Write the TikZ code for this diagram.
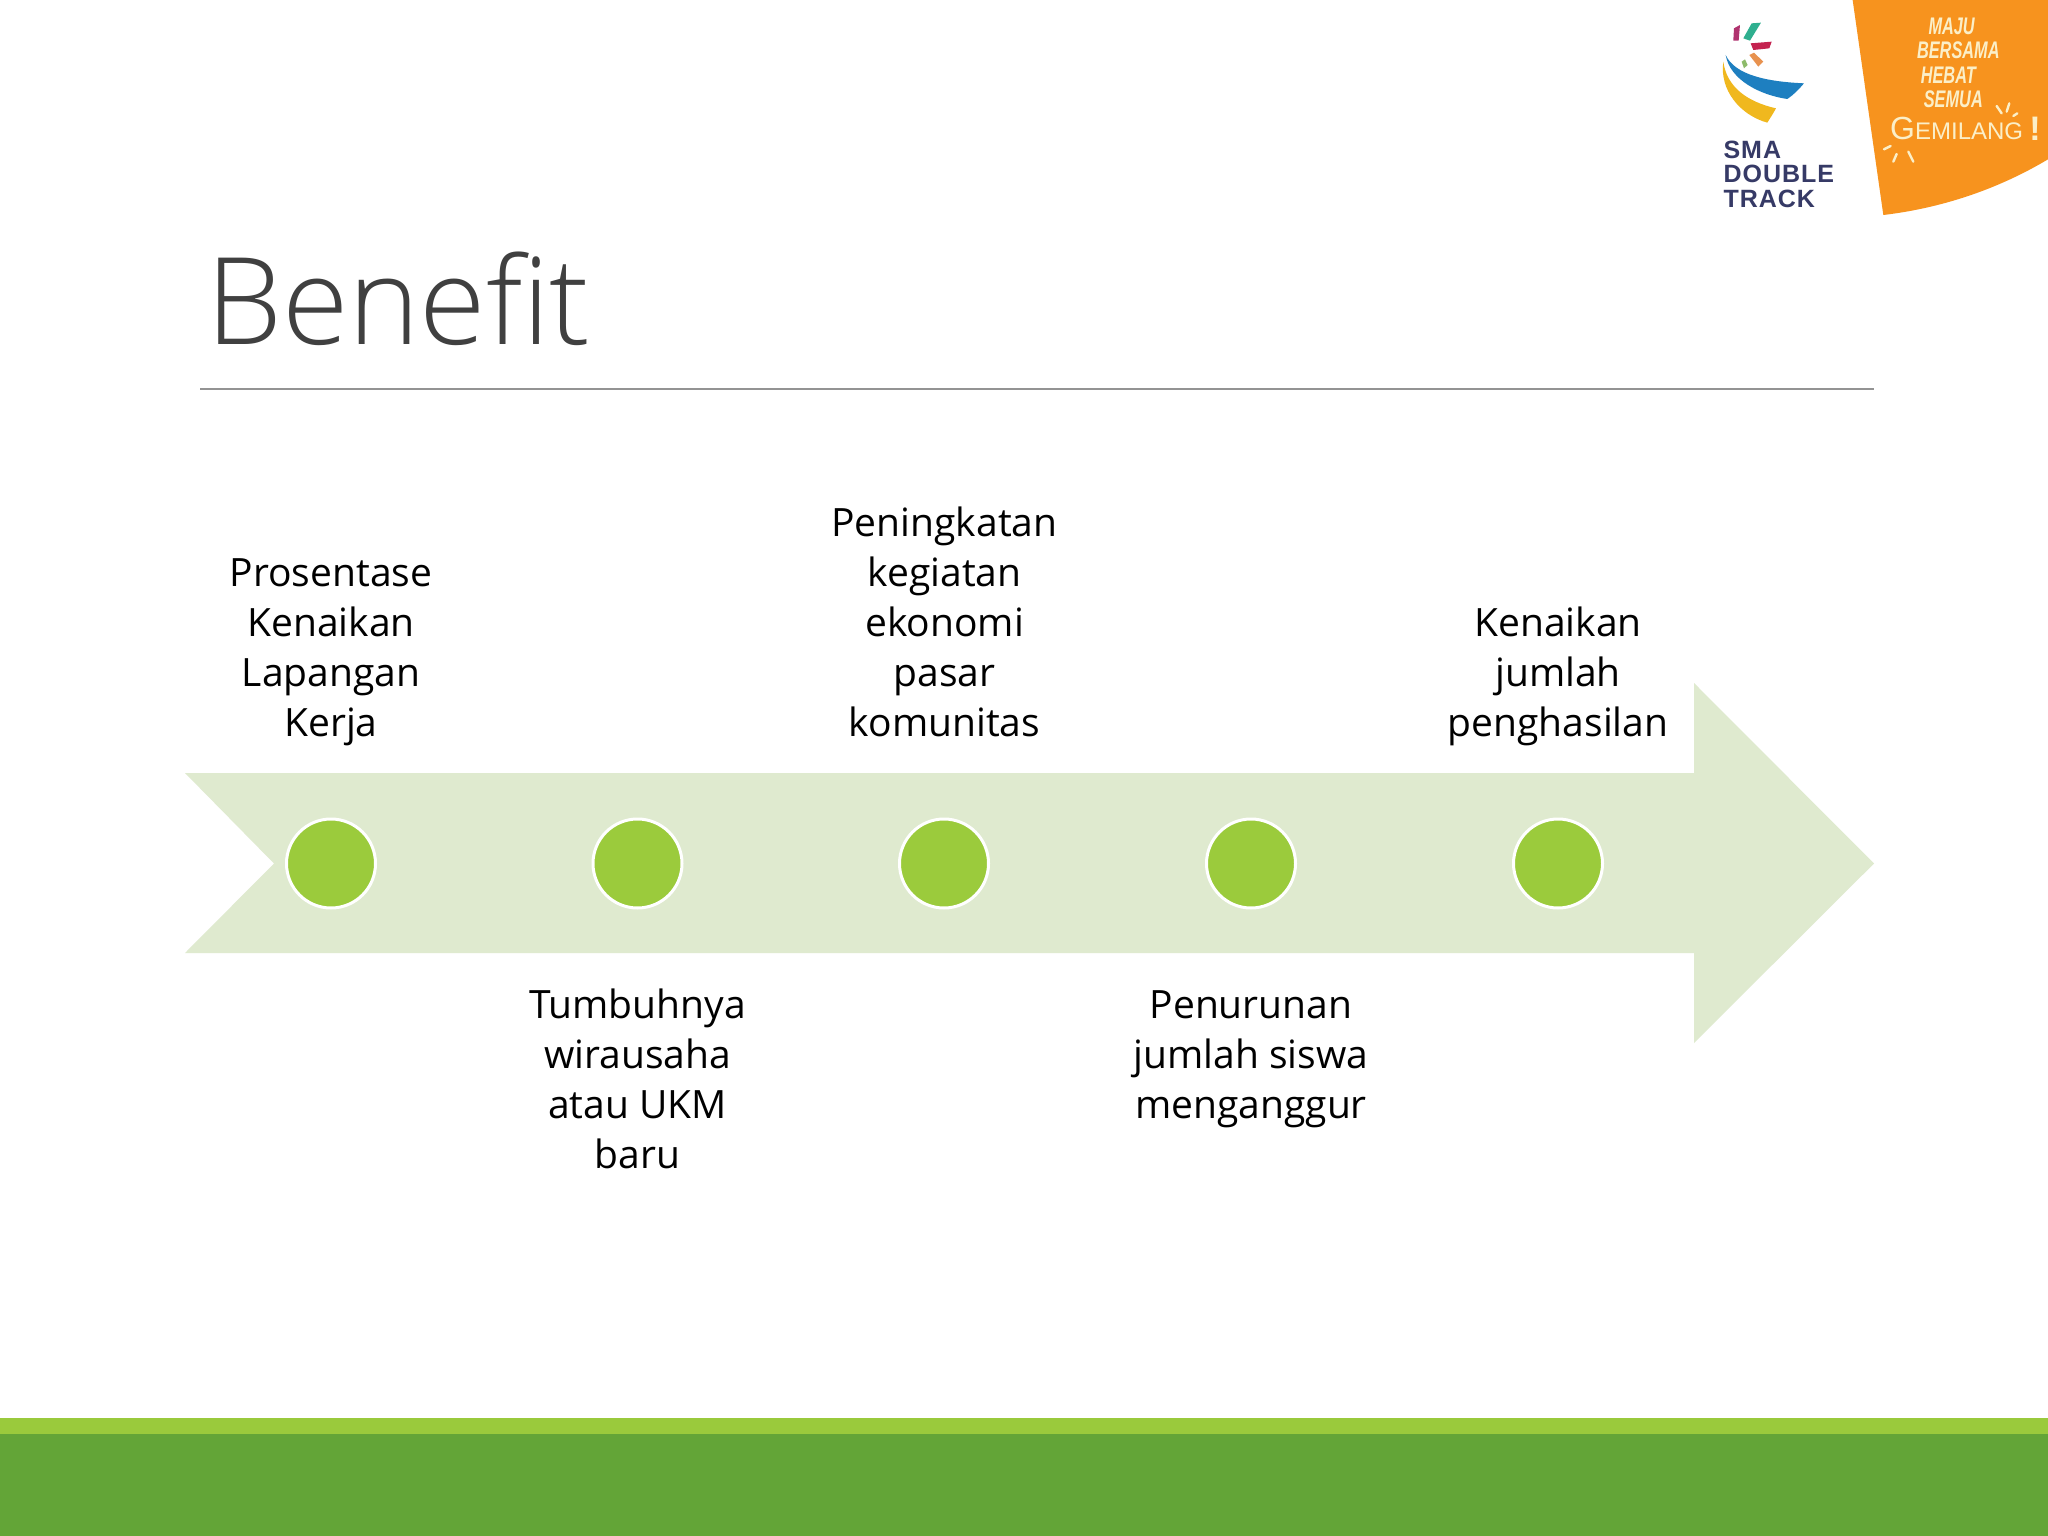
\documentclass[tikz,border=0pt]{standalone}
\usepackage{fontspec}
\setmainfont{Open Sans}
\newfontfamily\titlefont{Open Sans Light}
\newfontfamily\logofont{Liberation Sans}[LetterSpace=4]
\newfontfamily\slogfont{Liberation Sans}
\definecolor{band}{HTML}{DFEACF}
\definecolor{dot}{HTML}{9BCB3C}
\definecolor{barlight}{HTML}{9ACA3C}
\definecolor{bardark}{HTML}{63A537}
\definecolor{orangebg}{HTML}{F7931E}
\definecolor{cream}{HTML}{FBEFC8}
\definecolor{navy}{HTML}{363A66}
\definecolor{lgblue}{HTML}{1E7FC0}
\definecolor{lgyellow}{HTML}{F0B81E}
\definecolor{lgpurple}{HTML}{B0336F}
\definecolor{lgteal}{HTML}{2FAF8F}
\definecolor{lgred}{HTML}{C4224F}
\definecolor{lgsalmon}{HTML}{E8924F}
\definecolor{lggreen}{HTML}{8DBB6A}
\tikzset{
  dotnode/.style={circle,fill=dot,draw=white,line width=3pt,minimum size=89pt,inner sep=0pt},
  bodytext/.style={inner sep=0pt,anchor=base,font=\fontsize{39}{50}\selectfont,text=black},
  slogan/.style={inner sep=0pt,text=cream,xscale=0.68,font=\slogfont\bfseries\itshape\fontsize{24}{24}\selectfont},
  logotext/.style={inner sep=0pt,anchor=west,text=navy,font=\logofont\bfseries\fontsize{25}{25}\selectfont},
  burst/.style={draw=cream,line width=2.4pt,line cap=round}
}
\begin{document}
\begin{tikzpicture}[x=1pt,y=-1pt]
\useasboundingbox (0,0) rectangle (2048,1536);
\fill[white] (0,0) rectangle (2048,1536);
% footer
\fill[bardark] (0,1434) rectangle (2048,1536);
\fill[barlight] (0,1418) rectangle (2048,1434);
% title
\node[inner sep=0pt,anchor=base west,text=black!75,font=\titlefont\fontsize{121}{121}\selectfont] (title) at (206,344) {Benefit};
\coordinate (ruleL) at (200,389);
\coordinate (ruleR) at (1874,389);
\draw[gray!85,line width=1.2pt] (ruleL) -- (ruleR);
% arrow
\fill[band] (185,773) -- (1694,773) -- (1694,683) -- (1874,863.5) -- (1694,1043) -- (1694,953) -- (185,953) -- (274,863.5) -- cycle;
% dots
\node[dotnode] (d1) at (331,863.5) {};
\node[dotnode] (d2) at (637.5,863.5) {};
\node[dotnode] (d3) at (944,863.5) {};
\node[dotnode] (d4) at (1251,863.5) {};
\node[dotnode] (d5) at (1558,863.5) {};
% labels
\node[bodytext] (t1) at (331,736) {\begin{tabular}[b]{@{}c@{}}Prosentase\\Kenaikan\\Lapangan\\Kerja\end{tabular}};
\node[bodytext] (t3) at (944.5,736) {\begin{tabular}[b]{@{}c@{}}Peningkatan\\kegiatan\\ekonomi\\pasar\\komunitas\end{tabular}};
\node[bodytext] (t5) at (1558,736) {\begin{tabular}[b]{@{}c@{}}Kenaikan\\jumlah\\penghasilan\end{tabular}};
\node[bodytext] (t2) at (637.5,1018) {\begin{tabular}[t]{@{}c@{}}Tumbuhnya\\wirausaha\\atau UKM\\baru\end{tabular}};
\node[bodytext] (t4) at (1251,1018) {\begin{tabular}[t]{@{}c@{}}Penurunan\\jumlah siswa\\menganggur\end{tabular}};
% logo
\begin{scope}[x=0.33333pt,y=-0.33333pt,shift={(5040,0)}]
\fill[orangebg] (518,0) -- (1104,0) -- (1104,478) .. controls (950,570) and (780,625) .. (610,645) -- cycle;
% logo ribbons
\fill[lgblue] (137,165) .. controls (165,225) and (260,245) .. (372,250) .. controls (355,270) and (340,285) .. (322,297) .. controls (240,285) and (150,240) .. (137,165) -- cycle;
\fill[lgyellow] (130,185) .. controls (140,260) and (200,305) .. (288,325) .. controls (280,340) and (270,355) .. (262,368) .. controls (180,345) and (118,270) .. (130,185) -- cycle;
\fill[lgpurple] (162,85) -- (180,75) -- (176,122) -- (160,122) -- cycle;
\fill[lgteal] (190,115) -- (215,70) -- (243,68) -- (210,122) -- cycle;
\fill[lgred] (212,130) -- (275,125) -- (268,145) -- (220,150) -- cycle;
\fill[lgsalmon] (208,165) -- (222,158) -- (250,185) -- (235,200) -- cycle;
\fill[lggreen] (185,185) -- (195,178) -- (203,195) -- (192,205) -- cycle;
\node[logotext] (lg1) at (130,450) {SMA};
\node[logotext] (lg2) at (130,523) {DOUBLE};
\node[logotext] (lg3) at (130,597) {TRACK};
\node[slogan] (s1) at (815,80) {MAJU};
\node[slogan] (s2) at (835,151) {BERSAMA};
\node[slogan] (s3) at (805,226) {HEBAT};
\node[slogan] (s4) at (820,298) {SEMUA};
\node[inner sep=0pt,text=cream,font=\slogfont\fontsize{32}{32}\selectfont] (s5) at (830,385) {G\fontsize{24}{24}\selectfont EMILANG};
\node[inner sep=0pt,text=cream,font=\slogfont\bfseries\fontsize{34}{34}\selectfont] (s6) at (1065,385) {!};
\draw[burst] (950,318) -- (965,340);
\draw[burst] (988,310) -- (980,335);
\draw[burst] (1012,340) -- (1000,348);
\draw[burst] (612,448) -- (632,438);
\draw[burst] (640,485) -- (650,462);
\draw[burst] (700,485) -- (685,455);
\end{scope}
\end{tikzpicture}
\end{document}
